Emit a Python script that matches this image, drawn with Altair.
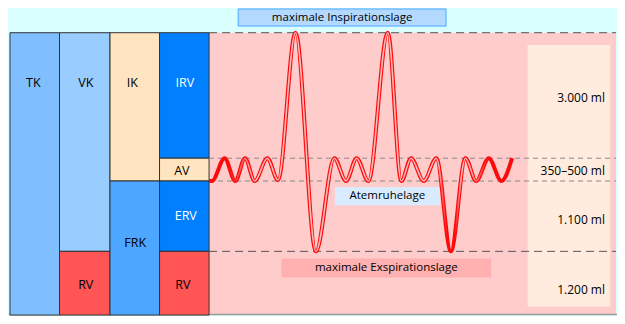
import altair as alt
import pandas as pd

# ---------------- data (image units: x to the right, y downward) ----------------
# lung-volume columns
col_names = ["TK", "VK", "RV", "IK", "FRK", "IRV", "AV", "ERV", "RV"]
col_left = [1, 52, 52, 104, 104, 155, 155, 155, 155]
col_right = [52, 104, 104, 155, 155, 206, 206, 206, 206]
col_top = [26, 26, 256, 26, 182, 26, 158, 182, 256]
col_bottom = [323, 256, 323, 182, 323, 158, 182, 256, 323]
col_fill = ["#80bfff", "#99ccff", "#ff5555", "#ffe5bf", "#4da6ff",
            "#0080ff", "#ffe5bf", "#0080ff", "#ff5555"]
col_label_x = [25, 79, 79, 127, 130, 181, 178, 182, 179]
col_label_y = [79, 79, 291, 79, 247, 79, 171, 219, 291]
col_text_color = ["black", "black", "black", "black", "black",
                  "white", "black", "white", "black"]

# reference levels (max. inspiration, end of tidal inspiration, resting level, max. expiration)
level_y_long = [26, 256]
level_y_short = [158, 182]

# volume annotations
vol_text = ["3.000 ml", "350–500 ml", "1.100 ml", "1.200 ml"]
vol_y = [95, 171, 223, 297]

# named boxes
box_text = ["maximale Inspirationslage", "Atemruhelage", "maximale Exspirationslage"]
box_left = [236, 336, 281]
box_right = [450, 443, 496]
box_top = [1, 189, 264]
box_bottom = [19, 207, 283]
box_fill = ["#b3d9ff", "#d9ecff", "#ffb0b0"]
box_stroke = ["#4da6ff", "#d9ecff", "#ffb0b0"]

# spirogram key points (peaks / troughs)
curve_x = [206, 209, 222, 233, 243, 253, 266, 277, 295, 316, 335, 347, 358, 370,
           390, 404, 414, 427, 440, 455, 470, 481, 494, 507, 518]
curve_y = [182, 182, 158, 182, 158, 182, 158, 181, 26, 256, 158, 182, 158, 182,
           26, 182, 158, 182, 158, 256, 158, 182, 158, 182, 158]

# ---------------- tables ----------------
cols = pd.DataFrame({"name": col_names, "x0": col_left, "x1": col_right,
                     "y0": col_top, "y1": col_bottom, "fill": col_fill,
                     "lx": col_label_x, "ly": col_label_y, "tc": col_text_color})
boxes = pd.DataFrame({"text": box_text, "x0": box_left, "x1": box_right,
                      "y0": box_top, "y1": box_bottom, "fill": box_fill,
                      "stroke": box_stroke})
boxes["cx"] = (boxes.x0 + boxes.x1) / 2
boxes["cy"] = (boxes.y0 + boxes.y1) / 2
vols = pd.DataFrame({"text": vol_text, "y": vol_y})
curve = pd.DataFrame({"x": curve_x, "y": curve_y})

XS = alt.Scale(domain=[0, 625], nice=False, zero=False)
YS = alt.Scale(domain=[0, 324], nice=False, zero=False, reverse=True)


def X(f):
    return alt.X(f, scale=XS, axis=None)


def Y(f):
    return alt.Y(f, scale=YS, axis=None)


FONT = "Open Sans"

# background regions
bg = pd.DataFrame({"x0": [206, 534], "x1": [625, 619], "y0": [26, 39], "y1": [322, 314],
                   "fill": ["#ffcccc", "#ffecdf"]})
bg_layer = alt.Chart(bg).mark_rect().encode(
    x=X("x0:Q"), x2="x1:Q", y=Y("y0:Q"), y2="y1:Q",
    fill=alt.Fill("fill:N", scale=None))

bottom_rule = alt.Chart(pd.DataFrame({"y": [322.5]})).mark_rule(
    color="#9a9a9a", strokeWidth=1.5).encode(
    x=alt.value(0), x2=alt.value(609), y=Y("y:Q"))

col_layer = alt.Chart(cols).mark_rect(stroke="#333333", strokeWidth=1).encode(
    x=X("x0:Q"), x2="x1:Q", y=Y("y0:Q"), y2="y1:Q",
    fill=alt.Fill("fill:N", scale=None))

col_text = alt.Chart(cols).mark_text(font=FONT, fontSize=12.5).encode(
    x=X("lx:Q"), y=Y("ly:Q"), text="name:N",
    color=alt.Color("tc:N", scale=None))

long_dash = alt.Chart(pd.DataFrame({"y": level_y_long})).mark_rule(
    color="#555555", strokeDash=[8, 5], strokeWidth=1).encode(
    x=X("a:Q"), x2="b:Q", y=Y("y:Q")).transform_calculate(a="206", b="625")

short_dash = alt.Chart(pd.DataFrame({"y": level_y_short})).mark_rule(
    color="#888888", strokeDash=[5, 4], strokeWidth=1).encode(
    x=X("a:Q"), x2="b:Q", y=Y("y:Q")).transform_calculate(a="206", b="625")

box_layer = alt.Chart(boxes).mark_rect(strokeWidth=1).encode(
    x=X("x0:Q"), x2="x1:Q", y=Y("y0:Q"), y2="y1:Q",
    fill=alt.Fill("fill:N", scale=None), stroke=alt.Stroke("stroke:N", scale=None))

box_text_layer = alt.Chart(boxes).mark_text(font=FONT, fontSize=11.5).encode(
    x=X("cx:Q"), y=Y("cy:Q"), text="text:N")

vol_layer = alt.Chart(vols).mark_text(font=FONT, fontSize=12, align="right").encode(
    x=alt.value(596), y=Y("y:Q"), text="text:N")

RED = "#ff0a0a"
PINK = "#ffb8b8"
x_first, x_last = curve_x[0], curve_x[-1]
grad_pts = [(206, RED), (226, RED), (252, PINK), (442, PINK), (451, RED), (459, RED),
            (466, PINK), (474, PINK), (494, RED), (518, RED)]
stops = [alt.GradientStop(offset=(gx - x_first) / (x_last - x_first), color=c)
         for gx, c in grad_pts]
grad = alt.LinearGradient(gradient="linear", stops=stops, x1=0, x2=1, y1=0, y2=0)

outer = alt.Chart(curve).mark_line(interpolate="monotone", color=RED, strokeWidth=4).encode(
    x=X("x:Q"), y=Y("y:Q"), order="x:Q")
inner = alt.Chart(curve).mark_line(interpolate="monotone", stroke=grad, strokeWidth=1.6).encode(
    x=X("x:Q"), y=Y("y:Q"), order="x:Q")

chart = alt.layer(
    bg_layer, bottom_rule, col_layer, col_text, long_dash, short_dash,
    box_layer, box_text_layer, vol_layer, outer, inner
).properties(
    width=609, height=308,
    autosize=alt.AutoSizeParams(type="fit", contains="padding"),
    padding=0,
).configure(background="#d9ffff").configure_view(stroke=None)

chart.save("out.html", embed_options={"renderer": "svg", "actions": False})
